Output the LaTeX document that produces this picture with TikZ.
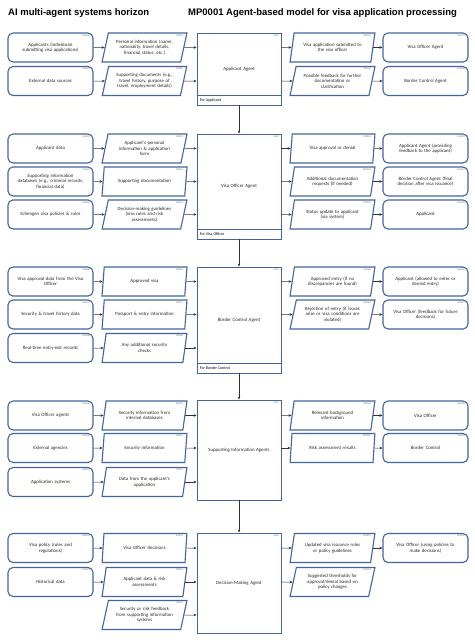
\documentclass[tikz,border=0pt]{standalone}
\usepackage{fontspec}
\setmainfont{Carlito}
\newfontfamily\headfont{Liberation Sans}
\usetikzlibrary{shapes.geometric,arrows.meta}
\definecolor{boxblue}{RGB}{66,100,160}
\definecolor{idgray}{RGB}{110,110,110}
\tikzset{
 txt/.style={font=\fontsize{4.8}{5.5}\selectfont, align=center, text=black!85},
 supbox/.style={txt, draw=boxblue, fill=white, line width=1.1pt, rounded corners=5pt, minimum width=85pt, minimum height=29pt, text width=78pt, inner sep=1pt},
 inbox/.style={txt, draw=boxblue, fill=white, line width=1.1pt, trapezium, trapezium left angle=71, trapezium right angle=109, trapezium stretches=true, minimum width=85pt, minimum height=29pt, text width=64pt, inner xsep=0pt, inner ysep=0.5pt},
 agbox/.style={txt, draw=boxblue, fill=white, line width=0.9pt, minimum width=84pt, text width=78pt, inner sep=0pt},
 arr/.style={-{Stealth[length=3pt,width=2.6pt]}, line width=0.5pt, draw=black!80},
 idtxt/.style={font=\fontsize{2.4}{3}\selectfont, text=idgray, inner sep=0pt, anchor=north east},
 striptxt/.style={font=\fontsize{4}{4.5}\selectfont, inner sep=0pt, anchor=west},
 striprule/.style={draw=boxblue, line width=0.8pt},
 headtxt/.style={font=\headfont\bfseries\fontsize{9.5}{11}\selectfont, anchor=west, inner sep=0pt},
}
\begin{document}
\begin{tikzpicture}[x=1pt,y=-1pt]
\fill[white] (0,0) rectangle (474,640);
\useasboundingbox (0,0) rectangle (474,640);
\node[headtxt] (h1) at (8,13) {AI multi-agent systems horizon};
\node[headtxt] (h2) at (188,13) {MP0001 Agent-based model for visa application processing};

% ---------------- Section 1
\node[agbox, minimum height=72pt] (ag1) at (239,69) {Applicant Agent};
\draw[striprule] ([yshift=10pt]ag1.south west) -- ([yshift=10pt]ag1.south east);
\node[striptxt] (st1) at ([shift={(3pt,5pt)}]ag1.south west) {For Applicant};
\node[supbox] (s11) at (50.5,47.5) {Applicants (individuals\\ submitting visa applications)};
\node[supbox] (s12) at (50.5,81) {External data sources};
\node[inbox] (i11) at (144.5,47.5) {Personal information (name,\\ nationality, travel details,\\ financial status, etc.)};
\node[inbox] (i12) at (144.5,81) {Supporting documents (e.g.,\\ travel history, purpose of\\ travel, employment details)};
\node[inbox] (o11) at (332.5,47.5) {Visa application submitted to\\ the visa officer};
\node[inbox] (o12) at (332.5,81) {Possible feedback for further\\ documentation or\\ clarification};
\node[supbox] (c11) at (425.5,47.5) {Visa Officer Agent};
\node[supbox] (c12) at (425.5,81) {Border Control Agent};

% ---------------- Section 2
\node[agbox, minimum height=105pt] (ag2) at (239,186.5) {Visa Officer Agent};
\draw[striprule] ([yshift=10pt]ag2.south west) -- ([yshift=10pt]ag2.south east);
\node[striptxt] (st2) at ([shift={(3pt,5pt)}]ag2.south west) {For Visa Officer};
\node[supbox] (s21) at (50.5,148.5) {Applicant data};
\node[supbox] (s22) at (50.5,181.5) {Supporting information\\ databases (e.g., criminal records,\\ financial data)};
\node[supbox] (s23) at (50.5,214.5) {Schengen visa policies \& rules};
\node[inbox] (i21) at (144.5,148.5) {Applicant's personal\\ information \& application\\ form};
\node[inbox] (i22) at (144.5,181.5) {Supporting documentation};
\node[inbox] (i23) at (144.5,214.5) {Decision-making guidelines\\ (visa rules and risk\\ assessments)};
\node[inbox] (o21) at (332.5,148.5) {Visa approval or denial};
\node[inbox] (o22) at (332.5,181.5) {Additional documentation\\ requests (if needed)};
\node[inbox] (o23) at (332.5,214.5) {Status update to applicant\\ (via system)};
\node[supbox] (c21) at (425.5,148.5) {Applicant Agent (providing\\ feedback to the applicant)};
\node[supbox] (c22) at (425.5,181.5) {Border Control Agent (final\\ decision after visa issuance)};
\node[supbox] (c23) at (425.5,214.5) {Applicant};

% ---------------- Section 3
\node[agbox, minimum height=106pt] (ag3) at (239,320) {Border Control Agent};
\draw[striprule] ([yshift=10pt]ag3.south west) -- ([yshift=10pt]ag3.south east);
\node[striptxt] (st3) at ([shift={(3pt,5pt)}]ag3.south west) {For Border Control};
\node[supbox] (s31) at (50.5,281.5) {Visa approval data from the Visa\\ Officer};
\node[supbox] (s32) at (50.5,314.5) {Security \& travel history data};
\node[supbox] (s33) at (50.5,348) {Real-time entry-exit records};
\node[inbox] (i31) at (144.5,281.5) {Approved visa};
\node[inbox] (i32) at (144.5,314.5) {Passport \& entry information};
\node[inbox] (i33) at (144.5,348) {Any additional security\\ checks};
\node[inbox] (o31) at (332.5,281.5) {Approved entry (if no\\ discrepancies are found)};
\node[inbox] (o32) at (332.5,314.5) {Rejection of entry (if issues\\ arise or visa conditions are\\ violated)};
\node[supbox] (c31) at (425.5,281.5) {Applicant (allowed to enter or\\ denied entry)};
\node[supbox] (c32) at (425.5,314.5) {Visa Officer (feedback for future\\ decisions)};

% ---------------- Section 4
\node[agbox, minimum height=100pt] (ag4) at (239,450) {Supporting Information Agents};
\node[supbox] (s41) at (50.5,415.5) {Visa Officer agents};
\node[supbox] (s42) at (50.5,448) {External agencies};
\node[supbox] (s43) at (50.5,482) {Application systems};
\node[inbox] (i41) at (144.5,415.5) {Security information from\\ internal databases};
\node[inbox] (i42) at (144.5,448) {Security information};
\node[inbox] (i43) at (144.5,482) {Data from the applicant's\\ application};
\node[inbox] (o41) at (332.5,415.5) {Relevant background\\ information};
\node[inbox] (o42) at (332.5,448) {Risk assessment results};
\node[supbox] (c41) at (425.5,415.5) {Visa Officer};
\node[supbox] (c42) at (425.5,448) {Border Control};

% ---------------- Section 5
\node[agbox, minimum height=100pt] (ag5) at (239,583) {Decision-Making Agent};
\node[supbox] (s51) at (50.5,548) {Visa policy (rules and\\ regulations)};
\node[supbox] (s52) at (50.5,582) {Historical data};
\node[inbox] (i51) at (144.5,548) {Visa Officer decisions};
\node[inbox] (i52) at (144.5,582) {Applicant data \& risk\\ assessments};
\node[inbox] (i53) at (144.5,615) {Security or risk feedback\\ from supporting information\\ systems};
\node[inbox] (o51) at (332.5,548) {Updated visa issuance rules\\ or policy guidelines};
\node[inbox] (o52) at (332.5,582) {Suggested thresholds for\\ approval/denial based on\\ policy changes};
\node[supbox] (c51) at (425.5,548) {Visa Officer (using policies to\\ make decisions)};

% ---------------- IDs
\foreach \n/\t in {s11/SU0001,s12/SU0002,s21/SU0003,s22/SU0004,s23/SU0005,s31/SU0006,s32/SU0007,s33/SU0008,s41/SU0009,s42/SU0010,s43/SU0011,s51/SU0012,s52/SU0013,
                   c11/CU0001,c12/CU0002,c21/CU0003,c22/CU0004,c23/CU0005,c31/CU0006,c32/CU0007,c41/CU0008,c42/CU0009,c51/CU0010}
  \node[idtxt] at ([shift={(-3.5pt,-2pt)}]\n.north east) {\t};
\foreach \n/\t in {i11/IP0001,i12/IP0002,i21/IP0003,i22/IP0004,i23/IP0005,i31/IP0006,i32/IP0007,i33/IP0008,i41/IP0009,i42/IP0010,i43/IP0011,i51/IP0012,i52/IP0013,i53/IP0014,
                   o11/OP0001,o12/OP0002,o21/OP0003,o22/OP0004,o23/OP0005,o31/OP0006,o32/OP0007,o41/OP0008,o42/OP0009,o51/OP0010,o52/OP0011}
  \node[idtxt] at ([shift={(-4.5pt,-2pt)}]\n.top right corner) {\t};
\foreach \n/\t in {ag1/A001,ag2/A002,ag3/A003,ag4/A004,ag5/A005}
  \node[idtxt] at ([shift={(-2.5pt,-2pt)}]\n.north east) {\t};

% ---------------- Connectors
\foreach \s/\i in {s11/i11,s12/i12,s21/i21,s22/i22,s23/i23,s31/i31,s32/i32,s33/i33,s41/i41,s42/i42,s43/i43,s51/i51,s52/i52}{
  \draw[arr] (\s.east) -- (\i);
}
\foreach \i/\a in {i11/ag1,i12/ag1,i21/ag2,i22/ag2,i23/ag2,i31/ag3,i32/ag3,i33/ag3,i41/ag4,i42/ag4,i43/ag4,i51/ag5,i52/ag5,i53/ag5}{
  \draw[arr] (\i) -- (\i -| \a.west);
}
\foreach \o/\a in {o11/ag1,o12/ag1,o21/ag2,o22/ag2,o23/ag2,o31/ag3,o32/ag3,o41/ag4,o42/ag4,o51/ag5,o52/ag5}{
  \draw[arr] (\o -| \a.east) -- (\o);
}
\foreach \o/\c in {o11/c11,o12/c12,o21/c21,o22/c22,o23/c23,o31/c31,o32/c32,o41/c41,o42/c42,o51/c51}{
  \draw[arr] (\o) -- (\c.west);
}
\draw[arr] (ag1) -- (ag2);
\draw[arr] (ag2) -- (ag3);
\draw[arr] (ag3) -- (ag4);
\draw[arr] (ag4) -- (ag5);
\end{tikzpicture}
\end{document}
